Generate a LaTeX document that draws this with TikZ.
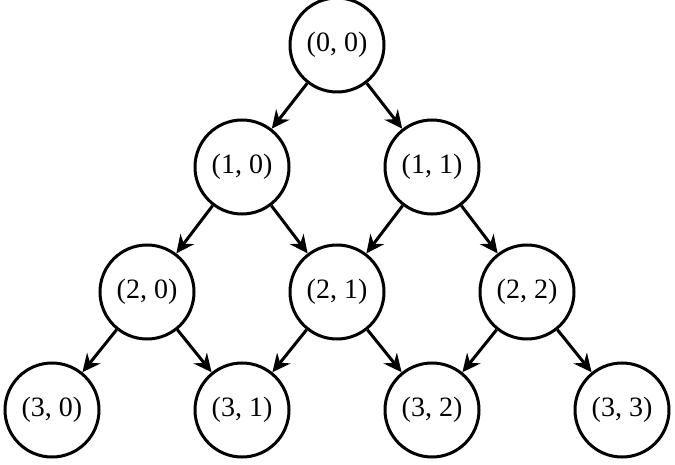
\documentclass[tikz,border=0pt]{standalone}
\usepackage{fontspec}
\setmainfont{Liberation Serif}
\usetikzlibrary{arrows.meta}
\begin{document}
\begin{tikzpicture}[x=1pt,y=-1pt,
  st/.style={circle,draw,line width=3pt,minimum size=94pt,inner sep=0pt,font=\fontsize{28}{30}\selectfont},
  ar/.style={line width=3pt,-{Stealth[length=18pt,width=17pt]}}]
\useasboundingbox (0,0) rectangle (675,465);
\node[st] (n00) at (337,45) {(0, 0)};
\node[st] (n10) at (242,167) {(1, 0)};
\node[st] (n11) at (432,167) {(1, 1)};
\node[st] (n20) at (147,292) {(2, 0)};
\node[st] (n21) at (337,292) {(2, 1)};
\node[st] (n22) at (527,292) {(2, 2)};
\node[st] (n30) at (52,410) {(3, 0)};
\node[st] (n31) at (242,410) {(3, 1)};
\node[st] (n32) at (432,410) {(3, 2)};
\node[st] (n33) at (622,410) {(3, 3)};
\draw[ar] (n00) -- (n10); \draw[ar] (n00) -- (n11);
\draw[ar] (n10) -- (n20); \draw[ar] (n10) -- (n21);
\draw[ar] (n11) -- (n21); \draw[ar] (n11) -- (n22);
\draw[ar] (n20) -- (n30); \draw[ar] (n20) -- (n31);
\draw[ar] (n21) -- (n31); \draw[ar] (n21) -- (n32);
\draw[ar] (n22) -- (n32); \draw[ar] (n22) -- (n33);
\end{tikzpicture}
\end{document}
